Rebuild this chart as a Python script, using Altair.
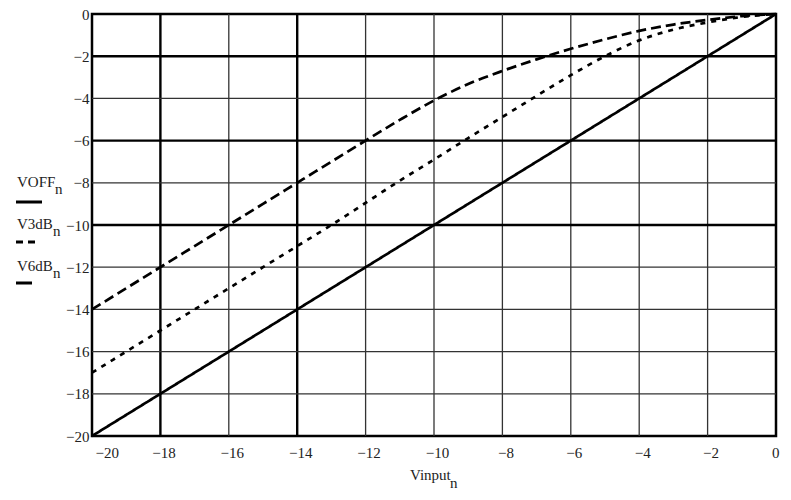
import altair as alt
import pandas as pd

# ---- data ----
vinput = [-20, -19, -18, -17, -16, -15, -14, -13, -12, -11, -10, -9, -8, -7, -6, -5, -4, -3, -2, -1, 0]
voff = [-20, -19, -18, -17, -16, -15, -14, -13, -12, -11, -10, -9, -8, -7, -6, -5, -4, -3, -2, -1, 0]
v3db = [-17, -16, -15, -14, -13, -12, -11, -10, -8.95, -7.9, -6.9, -5.88, -4.88, -3.88, -2.9, -2.0, -1.25, -0.74, -0.4, -0.14, 0]
v6db = [-14, -13, -12, -11, -10, -9, -8, -7, -6.0, -5.02, -4.1, -3.32, -2.7, -2.15, -1.65, -1.2, -0.8, -0.5, -0.28, -0.1, 0]

x_ticks = [-20, -18, -16, -14, -12, -10, -8, -6, -4, -2, 0]
y_ticks = [-20, -18, -16, -14, -12, -10, -8, -6, -4, -2, 0]
thick_x = [-18, -14]
thin_x = [-16, -12, -10, -8, -6, -4, -2]
thick_y = [-2, -6, -10]
thin_y = [-4, -8, -12, -14, -16, -18]

FONT = "Liberation Serif"
TXT = "#222222"

df = pd.DataFrame({"Vinput": vinput, "VOFF": voff, "V3dB": v3db, "V6dB": v6db})

xscale = alt.Scale(domain=[-20, 0], nice=False, zero=False)
yscale = alt.Scale(domain=[-20, 0], nice=False, zero=False)

xaxis = alt.Axis(values=x_ticks, title=None, grid=False, ticks=False, tickSize=0, domain=False,
                 labelFlush=True, labelOffset=3, labelPadding=9, labelFont=FONT,
                 labelFontSize=15, labelColor=TXT)
yaxis = alt.Axis(values=y_ticks, title=None, grid=False, ticks=False, tickSize=0, domain=False,
                 labelPadding=3, labelFont=FONT, labelFontSize=15, labelColor=TXT)


def vgrid(vals, width, color):
    return alt.Chart(pd.DataFrame({"Vinput": vals})).mark_rule(strokeWidth=width, color=color).encode(
        x=alt.X("Vinput:Q", scale=xscale, axis=xaxis))


def hgrid(vals, width, color):
    return alt.Chart(pd.DataFrame({"VOFF": vals})).mark_rule(strokeWidth=width, color=color).encode(
        y=alt.Y("VOFF:Q", scale=yscale, axis=yaxis))


def series(col, dash):
    return alt.Chart(df).mark_line(color="black", strokeWidth=2.7, strokeDash=dash,
                                   interpolate="monotone").encode(
        x=alt.X("Vinput:Q", scale=xscale, axis=xaxis),
        y=alt.Y(f"{col}:Q", scale=yscale, axis=yaxis),
    )


one = alt.Data(values=[{}])


def label(text, x, y, size=15):
    return alt.Chart(one).mark_text(text=text, font=FONT, fontSize=size, color=TXT,
                                    align="left", baseline="alphabetic").encode(
        x=alt.value(x), y=alt.value(y))


def sample(x1, x2, y, dash):
    return alt.Chart(one).mark_rule(color="black", strokeWidth=3, strokeDash=dash).encode(
        x=alt.value(x1), x2=alt.value(x2), y=alt.value(y))


layers = [
    vgrid(thin_x, 1.3, "#333333"),
    vgrid(thick_x, 2.4, "black"),
    hgrid(thin_y, 1.3, "#333333"),
    hgrid(thick_y, 2.4, "black"),
    series("VOFF", [1, 0]),
    series("V3dB", [5, 6]),
    series("V6dB", [10, 5]),
    # legend (Mathcad style, left of the plot)
    label("VOFF", -75, 173),
    label("n", -37, 180),
    sample(-76, -50, 188, [1, 0]),
    label("V3dB", -75, 215),
    label("n", -39, 222),
    sample(-76, -55, 228, [7, 5]),
    label("V6dB", -75, 257),
    label("n", -39, 264),
    sample(-76, -60, 269, [1, 0]),
    # x title
    label("Vinput", 318, 466),
    label("n", 358, 474),
]

chart = alt.layer(*layers).properties(
    width=684, height=422,
    padding={"left": 92, "top": 14, "right": 15, "bottom": 64},
    autosize=alt.AutoSizeParams(type="none"),
).configure_view(stroke="black", strokeWidth=2.5)

chart.save("out.html", embed_options={"renderer": "svg", "actions": False})
